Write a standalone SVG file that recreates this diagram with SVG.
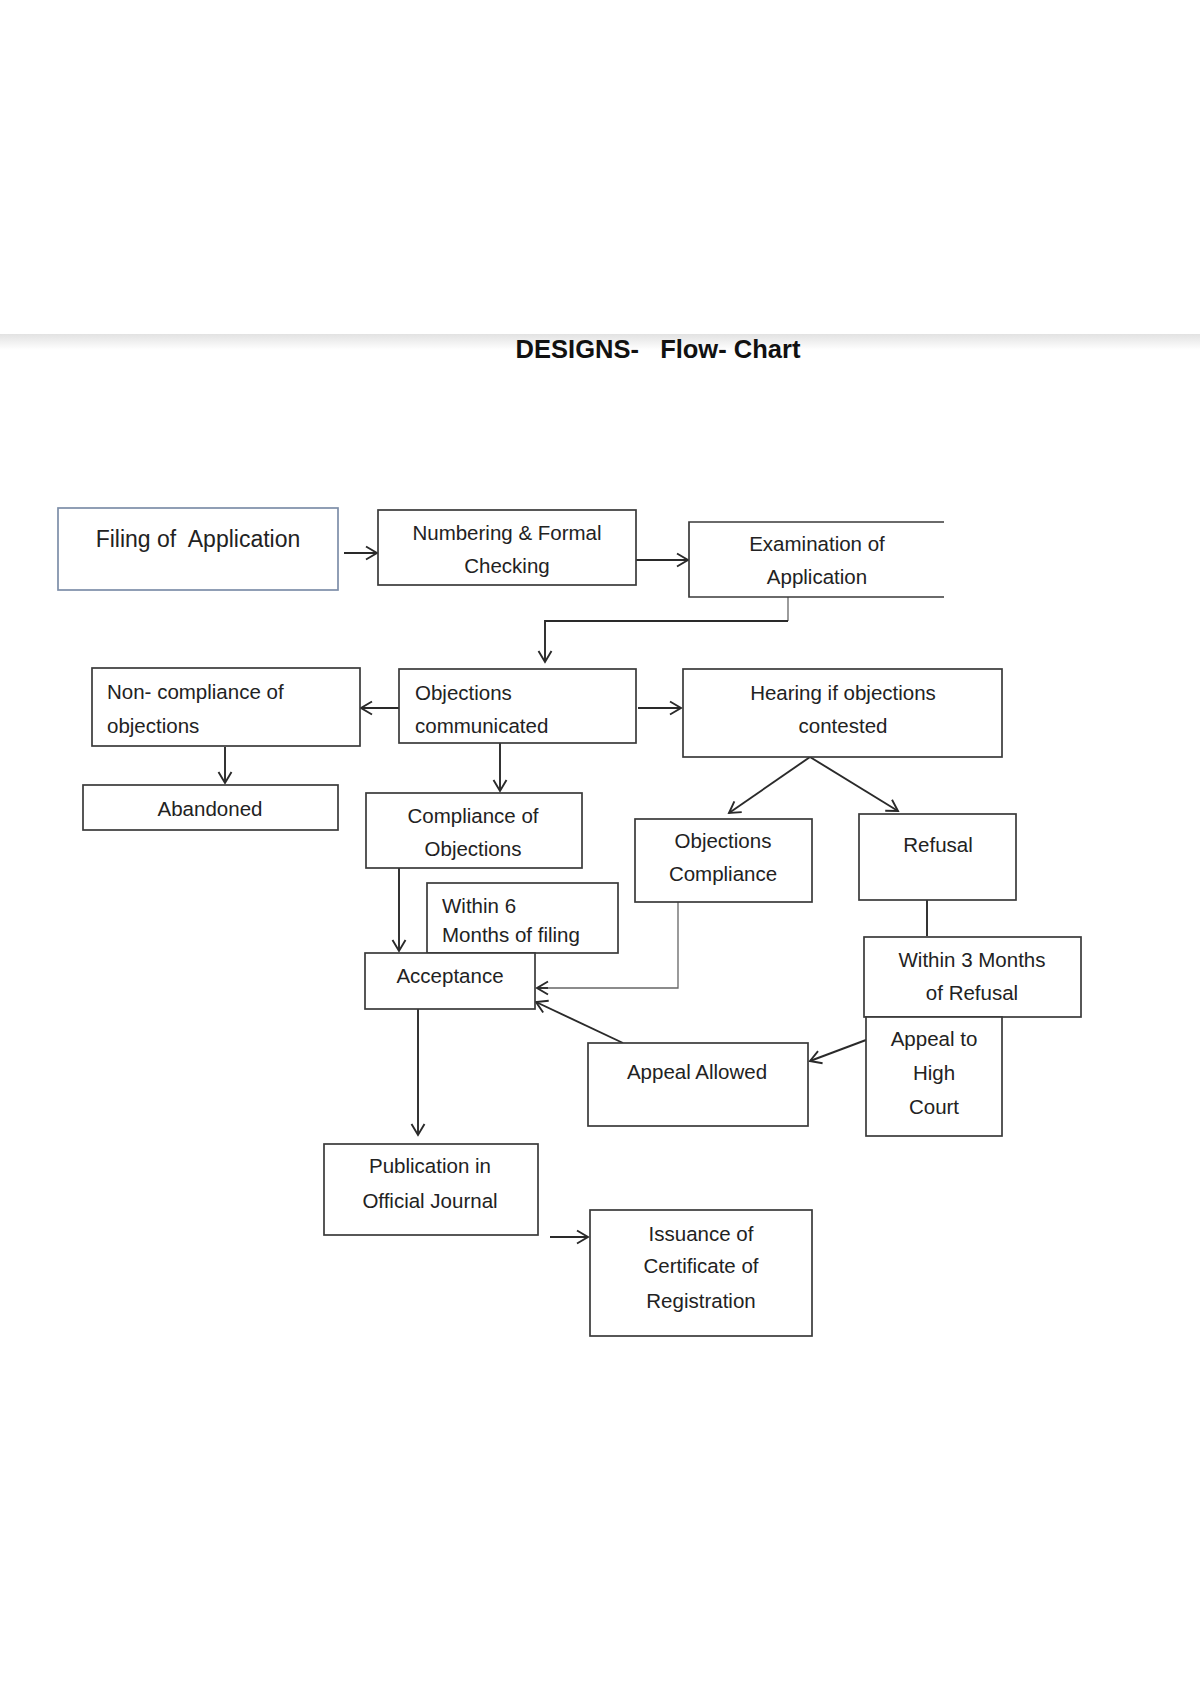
<svg xmlns="http://www.w3.org/2000/svg" width="1200" height="1698" viewBox="0 0 1200 1698">
<style>
.box{fill:#fff;stroke:#3a3a3a;stroke-width:1.7}
.t{font-family:"Liberation Sans",Arial,sans-serif;font-size:20.5px;fill:#222;text-anchor:middle;white-space:pre}
.l{text-anchor:start}
.c{fill:none;stroke:#2a2a2a;stroke-width:1.9}
.g{fill:none;stroke:#666;stroke-width:1.3}
</style>
<defs>
<linearGradient id="sh" x1="0" y1="0" x2="0" y2="1">
<stop offset="0" stop-color="#e2e2e2"/>
<stop offset="1" stop-color="#ffffff"/>
</linearGradient>
<marker id="ah" markerUnits="userSpaceOnUse" markerWidth="16" markerHeight="16" refX="13" refY="8" orient="auto">
<path d="M2,1.5 L13,8 L2,14.5" fill="none" stroke="#2a2a2a" stroke-width="1.9"/>
</marker>
</defs>
<rect width="1200" height="1698" fill="#fff"/>
<rect x="0" y="334" width="1200" height="16" fill="url(#sh)"/>
<text x="658" y="358" style="font-family:'Liberation Sans',Arial,sans-serif;font-size:25.5px;font-weight:bold;fill:#111;text-anchor:middle;white-space:pre">DESIGNS-   Flow- Chart</text>

<g id="connectors">
<line class="c" x1="344" y1="553" x2="377" y2="553" marker-end="url(#ah)"/>
<line class="c" x1="636" y1="560" x2="688" y2="560" marker-end="url(#ah)"/>
<path class="g" d="M788,597 V621" stroke="#5a7aa0"/>
<path class="c" d="M788,621 H545 V662" marker-end="url(#ah)"/>
<line class="c" x1="399" y1="708" x2="361" y2="708" marker-end="url(#ah)"/>
<line class="c" x1="638" y1="708" x2="681" y2="708" marker-end="url(#ah)"/>
<line class="c" x1="225" y1="747" x2="225" y2="783" marker-end="url(#ah)"/>
<line class="c" x1="500" y1="743" x2="500" y2="791" marker-end="url(#ah)"/>
<line class="c" x1="810" y1="757" x2="729" y2="813" marker-end="url(#ah)"/>
<line class="c" x1="810" y1="757" x2="898" y2="811" marker-end="url(#ah)"/>
<line class="c" x1="927" y1="900" x2="927" y2="936"/>
<line class="c" x1="399" y1="868" x2="399" y2="951" marker-end="url(#ah)"/>
<path class="g" d="M678,902 V988 H548"/>
<line class="c" x1="548" y1="988" x2="537" y2="988" marker-end="url(#ah)"/>
<line class="c" x1="866" y1="1040" x2="810" y2="1061" marker-end="url(#ah)"/>
<line class="c" x1="623" y1="1043" x2="536" y2="1002" marker-end="url(#ah)"/>
<line class="c" x1="418" y1="1009" x2="418" y2="1135" marker-end="url(#ah)"/>
<line class="c" x1="550" y1="1237" x2="588" y2="1237" marker-end="url(#ah)"/>
</g>

<g id="filing">
<rect class="box" x="58" y="508" width="280" height="82" style="stroke:#7d8ea8"/>
<text class="t" x="198" y="547" style="font-size:23px">Filing of  Application</text>
</g>
<g id="numbering">
<rect class="box" x="378" y="510" width="258" height="75"/>
<text class="t" x="507" y="540">Numbering &amp; Formal</text>
<text class="t" x="507" y="573">Checking</text>
</g>
<g id="examination">
<path class="box" d="M944,522 H689 V597 H944"/>
<text class="t" x="817" y="551">Examination of</text>
<text class="t" x="817" y="584">Application</text>
</g>
<g id="noncompliance">
<rect class="box" x="92" y="668" width="268" height="78"/>
<text class="t l" x="107" y="699">Non- compliance of</text>
<text class="t l" x="107" y="733">objections</text>
</g>
<g id="objections">
<rect class="box" x="399" y="669" width="237" height="74"/>
<text class="t l" x="415" y="700">Objections</text>
<text class="t l" x="415" y="733">communicated</text>
</g>
<g id="hearing">
<rect class="box" x="683" y="669" width="319" height="88"/>
<text class="t" x="843" y="700">Hearing if objections</text>
<text class="t" x="843" y="733">contested</text>
</g>
<g id="abandoned">
<rect class="box" x="83" y="785" width="255" height="45"/>
<text class="t" x="210" y="816">Abandoned</text>
</g>
<g id="compliance">
<rect class="box" x="366" y="793" width="216" height="75"/>
<text class="t" x="473" y="823">Compliance of</text>
<text class="t" x="473" y="856">Objections</text>
</g>
<g id="objcompliance">
<rect class="box" x="635" y="819" width="177" height="83"/>
<text class="t" x="723" y="848">Objections</text>
<text class="t" x="723" y="881">Compliance</text>
</g>
<g id="refusal">
<rect class="box" x="859" y="814" width="157" height="86"/>
<text class="t" x="938" y="852">Refusal</text>
</g>
<g id="within6">
<rect class="box" x="427" y="883" width="191" height="70"/>
<text class="t l" x="442" y="913">Within 6</text>
<text class="t l" x="442" y="942">Months of filing</text>
</g>
<g id="within3">
<rect class="box" x="864" y="937" width="217" height="80"/>
<text class="t" x="972" y="967">Within 3 Months</text>
<text class="t" x="972" y="1000">of Refusal</text>
</g>
<g id="acceptance">
<rect class="box" x="365" y="953" width="170" height="56"/>
<text class="t" x="450" y="983">Acceptance</text>
</g>
<g id="highcourt">
<rect class="box" x="866" y="1017" width="136" height="119"/>
<text class="t" x="934" y="1046">Appeal to</text>
<text class="t" x="934" y="1080">High</text>
<text class="t" x="934" y="1114">Court</text>
</g>
<g id="allowed">
<rect class="box" x="588" y="1043" width="220" height="83"/>
<text class="t" x="697" y="1079">Appeal Allowed</text>
</g>
<g id="publication">
<rect class="box" x="324" y="1144" width="214" height="91"/>
<text class="t" x="430" y="1173">Publication in</text>
<text class="t" x="430" y="1208">Official Journal</text>
</g>
<g id="issuance">
<rect class="box" x="590" y="1210" width="222" height="126"/>
<text class="t" x="701" y="1241">Issuance of</text>
<text class="t" x="701" y="1273">Certificate of</text>
<text class="t" x="701" y="1308">Registration</text>
</g>
</svg>
